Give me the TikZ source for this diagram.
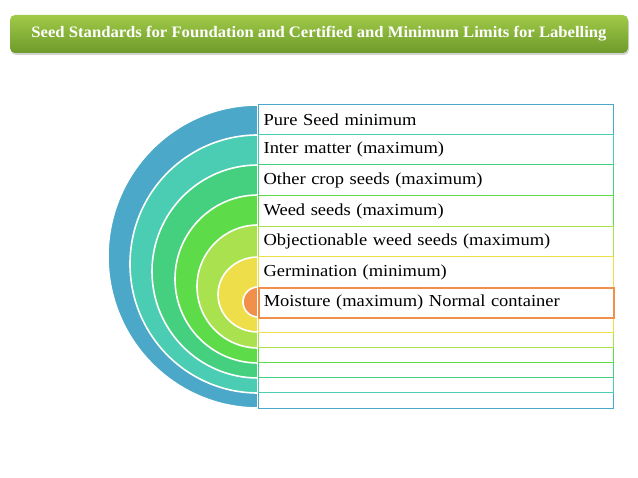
\documentclass[tikz,border=0pt]{standalone}
\usepackage{fontspec}
\setmainfont{Liberation Serif}
\newfontfamily\rowfont[FakeStretch=1.1]{Liberation Serif}
\newfontfamily\titlefont[FakeStretch=1.04]{Liberation Serif}
\usetikzlibrary{shadows}
\definecolor{cblue}{HTML}{4BA8C8}
\definecolor{cteal}{HTML}{4ACDB2}
\definecolor{cgreen}{HTML}{44D07E}
\definecolor{cbright}{HTML}{5EDB48}
\definecolor{clight}{HTML}{A9E24E}
\definecolor{cyellow}{HTML}{EEDE4A}
\definecolor{corange}{HTML}{F0904A}
\definecolor{tgA}{HTML}{A0CA48}
\definecolor{tgB}{HTML}{6E9A2A}
\tikzset{
  row/.style={draw=#1, line width=1.2pt, fill=white, anchor=north west, minimum width=355pt,
    text width=345pt, inner xsep=5pt, inner ysep=0pt, align=left, font=\rowfont\fontsize{16.8}{18}\selectfont},
  band/.style={fill=#1, draw=white, line width=1.6pt}
}
\begin{document}
\begin{tikzpicture}[x=1pt,y=1pt]
\useasboundingbox (0,0) rectangle (638,478);
\node[rounded corners=5pt, top color=tgA, bottom color=tgB, minimum width=618pt, minimum height=38pt,
  drop shadow={opacity=0.35, shadow xshift=1pt, shadow yshift=-2pt},
  text=white, font=\titlefont\fontsize{16}{18}\selectfont\bfseries] (title) at (319,444)
  {Seed Standards for Foundation and Certified and Minimum Limits for Labelling};
% bands
\foreach \c/\cy/\rx/\ry in {cblue/221.5/150/151.5, cteal/214/128/129, cgreen/206.5/106/106.5,
  cbright/199/83/84, clight/191.5/61/61.5, cyellow/183.5/40/37.5, corange/176/15/15}{
  \filldraw[band=\c] (258,\cy+\ry) arc[start angle=90,end angle=270,x radius=\rx,y radius=\ry] -- cycle;
}
% rows
\node[row=cblue, minimum height=30pt] (r1) at (258,374) {Pure Seed minimum};
\node[row=cteal, minimum height=30pt] (r2) at (258,344) {Inter matter (maximum)};
\node[row=cgreen, minimum height=31pt] (r3) at (258,314) {Other crop seeds (maximum)};
\node[row=cbright, minimum height=31pt] (r4) at (258,283) {Weed seeds (maximum)};
\node[row=clight, minimum height=30pt] (r5) at (258,252) {Objectionable weed seeds (maximum)};
\node[row=cyellow, minimum height=31pt] (r6) at (258,222) {Germination (minimum)};
\node[row=cblue, minimum height=16pt] (b6) at (258,86) {};
\node[row=cteal, minimum height=15pt] (b5) at (258,101) {};
\node[row=cgreen, minimum height=15pt] (b4) at (258,116) {};
\node[row=cbright, minimum height=15pt] (b3) at (258,131) {};
\node[row=clight, minimum height=15pt] (b2) at (258,146) {};
\node[row=cyellow, minimum height=15pt] (b1) at (258,161) {};
\node[row=corange, line width=1.6pt, minimum height=30pt] (r7) at (258,191) {Moisture (maximum) Normal container};
\end{tikzpicture}
\end{document}
